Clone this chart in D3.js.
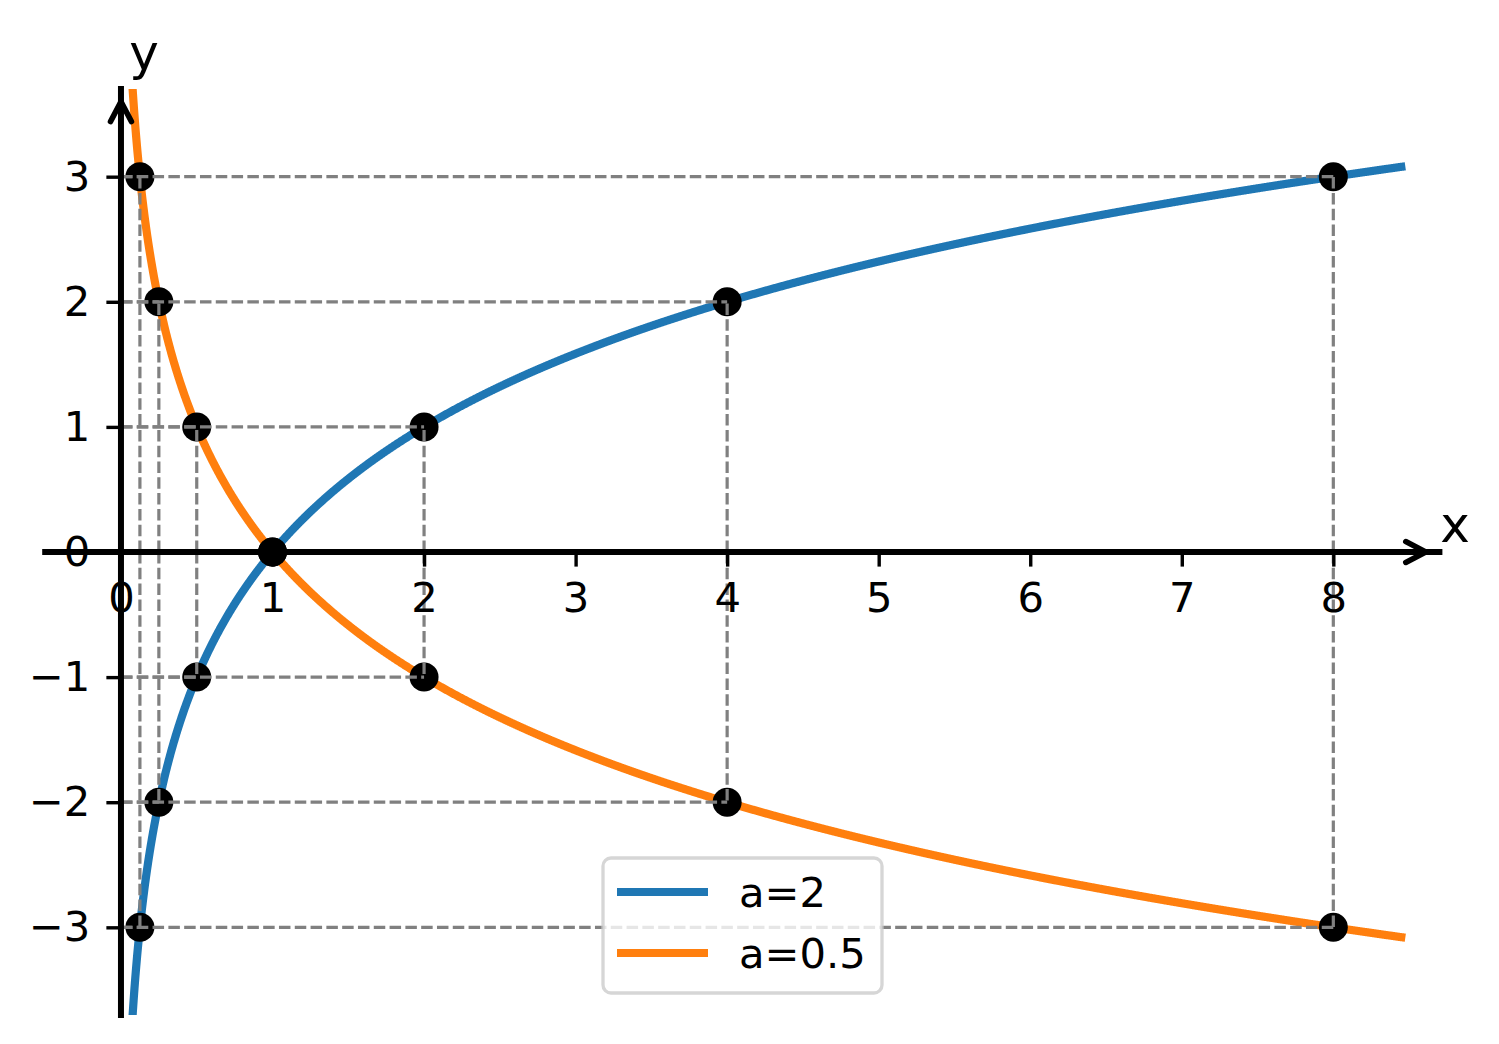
<!DOCTYPE html>
<html><head><meta charset="utf-8">
<script src="https://cdn.jsdelivr.net/npm/d3@7"></script>
<style>body{margin:0;background:#fff}</style>
</head><body><svg id="c" width="1499" height="1044"></svg>
<script>
// ---- data ----
const bases = [2, 0.5];
const seriesNames = ["a=2", "a=0.5"];
const seriesColors = ["#1f77b4", "#ff7f0e"];
const pointX = [0.125, 0.25, 0.5, 1, 2, 4, 8];
const pointYBase2 = [-3, -2, -1, 0, 1, 2, 3];
const pointYBaseHalf = [3, 2, 1, 0, -1, -2, -3];
const xTicks = [0, 1, 2, 3, 4, 5, 6, 7, 8];
const xTickLabels = ["0", "1", "2", "3", "4", "5", "6", "7", "8"];
const yTicks = [-3, -2, -1, 0, 1, 2, 3];
const yTickLabels = ["\u22123", "\u22122", "\u22121", "0", "1", "2", "3"];
const xLimits = [-0.5, 8.7];
const yLimits = [-3.7, 3.7];
const curveXRange = [0.01, 8.475];
const arrowTip = {x: 8.61, y: 3.6};

// ---- layout ----
const svg = d3.select("#c");
const FONT = "DejaVu Sans";
const x = d3.scaleLinear().domain(xLimits).range([45.2, 1439.4]);
const y = d3.scaleLinear().domain(yLimits).range([1014.9, 89.1]);

svg.append("defs").append("clipPath").attr("id", "plotclip")
  .append("rect")
  .attr("x", x(xLimits[0])).attr("y", y(yLimits[1]))
  .attr("width", x(xLimits[1]) - x(xLimits[0]))
  .attr("height", y(yLimits[0]) - y(yLimits[1]));

// curves
const N = 3000;
const xs = d3.range(N + 1).map(i => curveXRange[0] + (curveXRange[1] - curveXRange[0]) * i / N);
const line = d3.line().x(d => x(d[0])).y(d => y(d[1]));
const gCurves = svg.append("g").attr("clip-path", "url(#plotclip)");
bases.forEach((a, i) => {
  const pts = xs.map(v => [v, Math.log(v) / Math.log(a)]);
  gCurves.append("path").attr("d", line(pts))
    .attr("fill", "none").attr("stroke", seriesColors[i])
    .attr("stroke-width", 8.2).attr("stroke-linejoin", "round");
});

// points
const allPts = [];
pointX.forEach((v, i) => allPts.push([v, pointYBase2[i]]));
pointX.forEach((v, i) => allPts.push([v, pointYBaseHalf[i]]));
svg.append("g").selectAll("circle").data(allPts).join("circle")
  .attr("cx", d => x(d[0])).attr("cy", d => y(d[1])).attr("r", 14.5)
  .attr("fill", "#000");

// dashed guides
const gGuide = svg.append("g").attr("stroke", "#808080").attr("stroke-width", 3.2)
  .attr("stroke-dasharray", "11.5,4.3").attr("fill", "none");
allPts.forEach(d => {
  if (d[1] !== 0) {
    gGuide.append("line").attr("x1", x(0)).attr("y1", y(d[1])).attr("x2", x(d[0])).attr("y2", y(d[1]));
    gGuide.append("line").attr("x1", x(d[0])).attr("y1", y(0)).attr("x2", x(d[0])).attr("y2", y(d[1]));
  }
});

// ticks via d3 axes
const xAxis = d3.axisBottom(x).tickValues(xTicks).tickFormat((d, i) => xTickLabels[i])
  .tickSize(14.6).tickPadding(16);
const gx = svg.append("g").attr("transform", `translate(0,${y(0)})`).call(xAxis);
const yAxis = d3.axisLeft(y).tickValues(yTicks).tickFormat((d, i) => yTickLabels[i])
  .tickSize(14.6).tickPadding(16);
const gy = svg.append("g").attr("transform", `translate(${x(0)},0)`).call(yAxis);
[gx, gy].forEach(g => {
  g.select(".domain").remove();
  g.selectAll(".tick line").attr("stroke", "#000").attr("stroke-width", 3.4);
  g.selectAll(".tick text").attr("fill", "#000").attr("font-family", FONT).attr("font-size", 41.7);
});

// spines
svg.append("line").attr("x1", x(xLimits[0])).attr("x2", x(xLimits[1]))
  .attr("y1", y(0)).attr("y2", y(0))
  .attr("stroke", "#000").attr("stroke-width", 6).attr("stroke-linecap", "square");
svg.append("line").attr("x1", x(0)).attr("x2", x(0))
  .attr("y1", y(yLimits[0])).attr("y2", y(yLimits[1]))
  .attr("stroke", "#000").attr("stroke-width", 6).attr("stroke-linecap", "square");

// arrows
const ax = x(arrowTip.x), ay = y(0);
svg.append("polyline").attr("points", `${ax - 20},${ay - 10.5} ${ax},${ay} ${ax - 20},${ay + 10.5}`)
  .attr("fill", "none").attr("stroke", "#000").attr("stroke-width", 5.5)
  .attr("stroke-linecap", "round").attr("stroke-linejoin", "round");
const bx = x(0), by = y(arrowTip.y);
svg.append("polyline").attr("points", `${bx - 10.5},${by + 20} ${bx},${by} ${bx + 10.5},${by + 20}`)
  .attr("fill", "none").attr("stroke", "#000").attr("stroke-width", 5.5)
  .attr("stroke-linecap", "round").attr("stroke-linejoin", "round");

// axis labels
svg.append("text").attr("x", 1455).attr("y", 542).attr("text-anchor", "middle")
  .attr("font-family", FONT).attr("font-size", 50).text("x");
svg.append("text").attr("x", 144).attr("y", 70).attr("text-anchor", "middle")
  .attr("font-family", FONT).attr("font-size", 50).text("y");

// legend
const lg = svg.append("g");
lg.append("rect").attr("x", 603).attr("y", 858).attr("width", 279).attr("height", 135)
  .attr("rx", 8).attr("fill", "#fff").attr("fill-opacity", 0.8)
  .attr("stroke", "#cccccc").attr("stroke-opacity", 0.8).attr("stroke-width", 3.3);
seriesNames.forEach((name, i) => {
  const ly = 892 + i * 61;
  lg.append("line").attr("x1", 617).attr("x2", 708).attr("y1", ly).attr("y2", ly)
    .attr("stroke", seriesColors[i]).attr("stroke-width", 8);
  lg.append("text").attr("x", 739).attr("y", ly + 15).attr("font-family", FONT)
    .attr("font-size", 41.7).attr("fill", "#000").text(name);
});
</script>
</body></html>
